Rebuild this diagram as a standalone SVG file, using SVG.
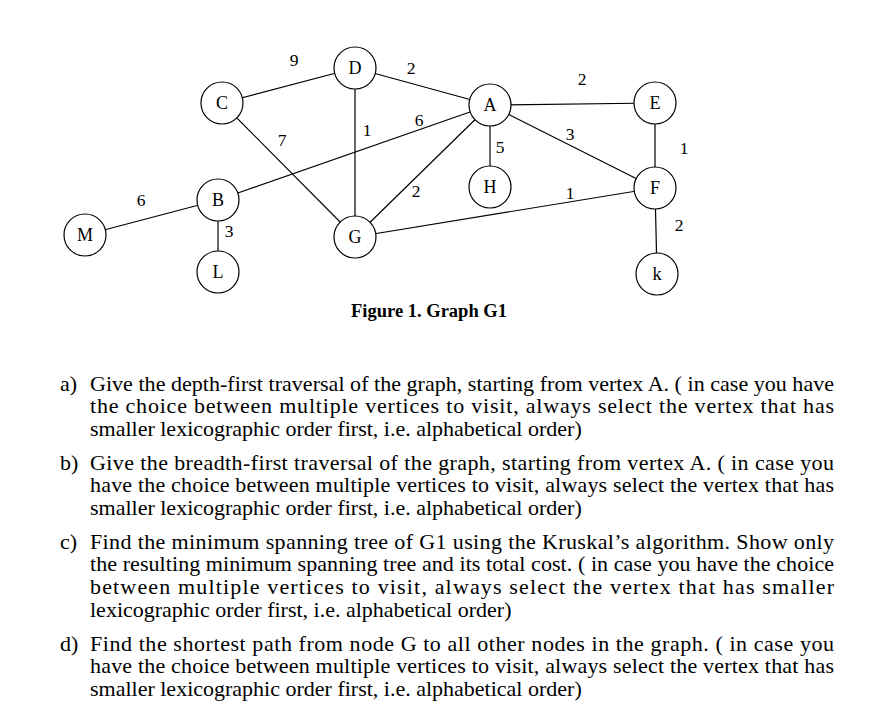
<svg xmlns="http://www.w3.org/2000/svg" width="886" height="726" viewBox="0 0 886 726">
<style>
circle{fill:#fff;stroke:#000;stroke-width:1.2}
line{stroke:#000;stroke-width:1.2}
text{font-family:"Liberation Serif",serif;fill:#000}
.n{text-anchor:middle;font-size:18px}
.w{font-size:17.5px;text-anchor:middle}
.q{font-size:22px}
.cap{font-weight:bold;font-size:18.5px;text-anchor:middle}
</style>
<rect width="886" height="726" fill="#fff"/>
<g id="edges">
<line x1="222" y1="103" x2="355" y2="68"/>
<line x1="222" y1="103" x2="355" y2="237"/>
<line x1="355" y1="68" x2="490" y2="105"/>
<line x1="355" y1="68" x2="355" y2="237"/>
<line x1="218" y1="200" x2="490" y2="105"/>
<line x1="490" y1="105" x2="355" y2="237"/>
<line x1="490" y1="105" x2="490" y2="187"/>
<line x1="490" y1="105" x2="655" y2="103"/>
<line x1="490" y1="105" x2="655" y2="188"/>
<line x1="655" y1="103" x2="655" y2="188"/>
<line x1="355" y1="237" x2="655" y2="188"/>
<line x1="655" y1="188" x2="657" y2="274"/>
<line x1="85" y1="235" x2="218" y2="200"/>
<line x1="218" y1="200" x2="218" y2="272"/>
<text class="w" x="294" y="66">9</text>
<text class="w" x="282" y="146">7</text>
<text class="w" x="411" y="74">2</text>
<text class="w" x="367" y="136">1</text>
<text class="w" x="419" y="126">6</text>
<text class="w" x="416" y="197">2</text>
<text class="w" x="500" y="153">5</text>
<text class="w" x="582" y="85">2</text>
<text class="w" x="570" y="140">3</text>
<text class="w" x="684" y="154">1</text>
<text class="w" x="570" y="199">1</text>
<text class="w" x="679" y="231">2</text>
<text class="w" x="141" y="206">6</text>
<text class="w" x="229" y="237">3</text>
</g>
<g id="C"><circle cx="222" cy="103" r="21"/><text class="n" x="222" y="109">C</text></g>
<g id="D"><circle cx="355" cy="68" r="21"/><text class="n" x="355" y="74">D</text></g>
<g id="A"><circle cx="490" cy="105" r="21"/><text class="n" x="490" y="111">A</text></g>
<g id="E"><circle cx="655" cy="103" r="21"/><text class="n" x="655" y="109">E</text></g>
<g id="B"><circle cx="218" cy="200" r="21"/><text class="n" x="218" y="206">B</text></g>
<g id="H"><circle cx="490" cy="187" r="21"/><text class="n" x="490" y="193">H</text></g>
<g id="F"><circle cx="655" cy="188" r="21"/><text class="n" x="655" y="194">F</text></g>
<g id="M"><circle cx="85" cy="235" r="21"/><text class="n" x="85" y="241">M</text></g>
<g id="G"><circle cx="355" cy="237" r="21"/><text class="n" x="355" y="243">G</text></g>
<g id="L"><circle cx="218" cy="272" r="21"/><text class="n" x="218" y="278">L</text></g>
<g id="k"><circle cx="657" cy="274" r="21"/><text class="n" x="657" y="280">k</text></g>
<text class="cap" x="429" y="317">Figure 1. Graph G1</text>
<g id="questions">
<text class="q" x="60" y="391">a)</text>
<text class="q" x="90" y="391" textLength="744" lengthAdjust="spacing">Give the depth-first traversal of the graph, starting from vertex A. ( in case you have</text>
<text class="q" x="90" y="413" textLength="744" lengthAdjust="spacing">the choice between multiple vertices to visit, always select the vertex that has</text>
<text class="q" x="90" y="436">smaller lexicographic order first, i.e. alphabetical order)</text>
<text class="q" x="60" y="470">b)</text>
<text class="q" x="90" y="470" textLength="744" lengthAdjust="spacing">Give the breadth-first traversal of the graph, starting from vertex A. ( in case you</text>
<text class="q" x="90" y="492" textLength="744" lengthAdjust="spacing">have the choice between multiple vertices to visit, always select the vertex that has</text>
<text class="q" x="90" y="515">smaller lexicographic order first, i.e. alphabetical order)</text>
<text class="q" x="60" y="549">c)</text>
<text class="q" x="90" y="549" textLength="744" lengthAdjust="spacing">Find the minimum spanning tree of G1 using the Kruskal’s algorithm. Show only</text>
<text class="q" x="90" y="571" textLength="744" lengthAdjust="spacing">the resulting minimum spanning tree and its total cost. ( in case you have the choice</text>
<text class="q" x="90" y="594" textLength="744" lengthAdjust="spacing">between multiple vertices to visit, always select the vertex that has smaller</text>
<text class="q" x="90" y="617">lexicographic order first, i.e. alphabetical order)</text>
<text class="q" x="60" y="651">d)</text>
<text class="q" x="90" y="651" textLength="744" lengthAdjust="spacing">Find the shortest path from node G to all other nodes in the graph. ( in case you</text>
<text class="q" x="90" y="673" textLength="744" lengthAdjust="spacing">have the choice between multiple vertices to visit, always select the vertex that has</text>
<text class="q" x="90" y="696">smaller lexicographic order first, i.e. alphabetical order)</text>
</g>
</svg>
